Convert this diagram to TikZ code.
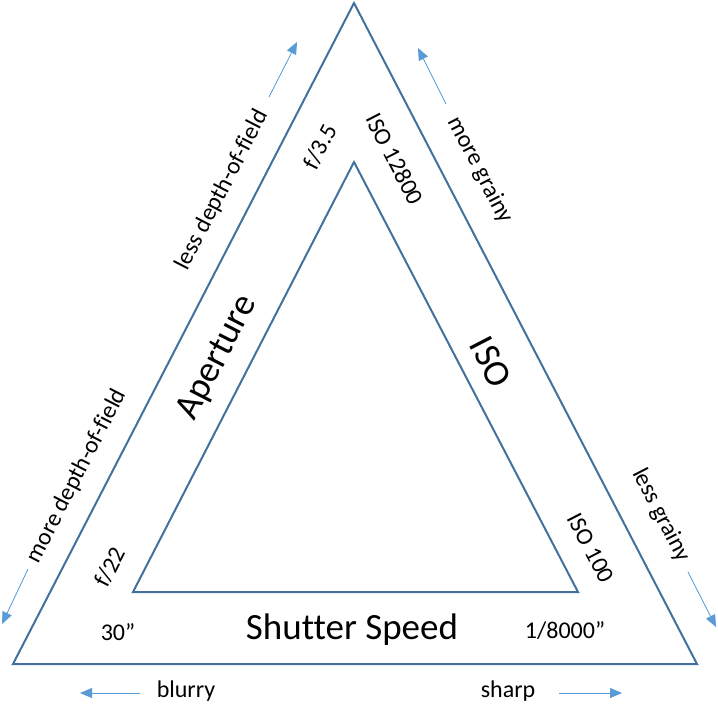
\documentclass[tikz,border=0pt]{standalone}
\usepackage{fontspec}
\setmainfont{Carlito}[Ligatures=CommonOff]
\usetikzlibrary{arrows.meta}
\definecolor{edgeblue}{RGB}{65,113,156}
\definecolor{hintblue}{RGB}{91,155,213}
\begin{document}
\begin{tikzpicture}[x=1pt, y=-1pt, >={Triangle[length=12pt,width=10pt]},
    side/.style={draw=edgeblue, line width=2pt},
    hint/.style={->, draw=hintblue, fill=hintblue, line width=0.8pt},
    small/.style={font=\fontsize{24}{24}\selectfont},
    big/.style={font=\fontsize{37}{37}\selectfont},
    up/.style={rotate=62.7}, down/.style={rotate=-62.7}]
\useasboundingbox (0,0) rectangle (718,707);
% triangles
\coordinate (top) at (354,3);
\coordinate (bl) at (13,664);
\coordinate (br) at (697,664);
\coordinate (itop) at (354,162);
\coordinate (ibl) at (133,592);
\coordinate (ibr) at (578,592);
\draw[side] (top) -- (bl) -- (br) -- cycle;
\draw[side] (itop) -- (ibl) -- (ibr) -- cycle;
% side names
\node[big, up] (aperture) at (218,358) {Aperture};
\node[big, down] (iso) at (491,362) {ISO};
\node[big] (shutter) at (352,630) {Shutter Speed};
% ends of each scale
\node[small, up] (fopen) at (320,147) {f/3.5};
\node[small, up] (fclosed) at (110,567) {f/22};
\node[small, down] (isohigh) at (395,159) {ISO 12800};
\node[small, down] (isolow) at (591,548) {ISO 100};
\node[small] (slow) at (118,632) {30”};
\node[small] (fast) at (565,631) {1/8000”};
% hints outside
\node[small, up] (lessdof) at (222,190) {less depth-of-field};
\node[small, up] (moredof) at (77,476) {more depth-of-field};
\node[small, down] (moregrain) at (480,170) {more grainy};
\node[small, down] (lessgrain) at (661,515) {less grainy};
\node[small] (blurry) at (186,691) {blurry};
\node[small] (sharp) at (508,691) {sharp};
\coordinate (a1) at (269,97);  \coordinate (a2) at (297,42);
\coordinate (b1) at (28,569);  \coordinate (b2) at (2,624);
\coordinate (c1) at (446,104); \coordinate (c2) at (418,48);
\coordinate (d1) at (688,572); \coordinate (d2) at (716,627);
\coordinate (e1) at (140,693); \coordinate (e2) at (80,693);
\coordinate (f1) at (559,693); \coordinate (f2) at (622,693);
\draw[hint] (a1) -- (a2);
\draw[hint] (b1) -- (b2);
\draw[hint] (c1) -- (c2);
\draw[hint] (d1) -- (d2);
\draw[hint] (e1) -- (e2);
\draw[hint] (f1) -- (f2);
\end{tikzpicture}
\end{document}
